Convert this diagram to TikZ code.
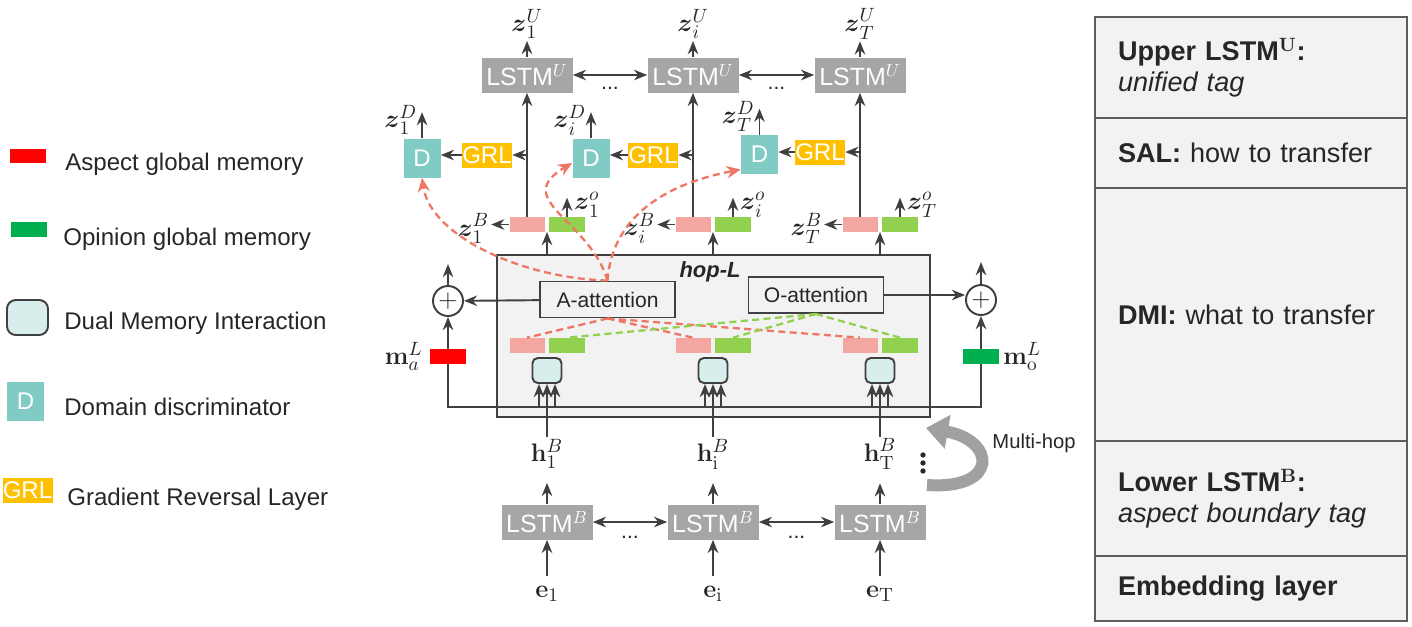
\documentclass[tikz,border=0pt]{standalone}
\usepackage[no-math]{fontspec}
\usepackage{amsmath}
\setmainfont{Liberation Sans}
\usetikzlibrary{positioning, arrows.meta}
\usetikzlibrary{calc}

% 颜色
\definecolor{lstmgray}{HTML}{A6A6A6}
\definecolor{discteal}{HTML}{80CBC4}
\definecolor{grlgold}{HTML}{FFC000}
\definecolor{apink}{HTML}{F4A7A0}
\definecolor{ogreen}{HTML}{92D050}
\definecolor{memred}{HTML}{FF0000}
\definecolor{memgreen}{HTML}{00B050}
\definecolor{dmicyan}{HTML}{D8EEEC}
\definecolor{boxgray}{HTML}{F2F2F2}
\definecolor{edgegray}{HTML}{404040}
\definecolor{txtgray}{HTML}{262626}
\definecolor{dashred}{HTML}{EF7564}
\definecolor{hopgray}{HTML}{A0A0A0}

% 尺寸与字体
\newcommand{\px}{0.02cm}
\newcommand{\legfont}{\fontsize{13.7}{16}\selectfont}
\newcommand{\panelfont}{\fontsize{15.4}{17.5}\selectfont}
\newcommand{\lstmfont}{\fontsize{14.2}{16}\selectfont}
\newcommand{\attfont}{\fontsize{12}{14}\selectfont}
\newcommand{\labfont}{\fontsize{15.5}{18}\selectfont}

\begin{document}
\begin{tikzpicture}[
        x=\px, y=-\px,
        lstm/.style={rectangle, fill=lstmgray, text=white, minimum width=91*\px, minimum height=35*\px, inner sep=0pt, font=\lstmfont},
        disc/.style={rectangle, fill=discteal, text=white, minimum width=37*\px, minimum height=39*\px, inner sep=0pt, font=\legfont},
        grl/.style={rectangle, fill=grlgold, text=white, minimum width=50*\px, minimum height=25*\px, inner sep=0pt, font=\legfont},
        amem/.style={rectangle, fill=apink, minimum width=35*\px, minimum height=15*\px, inner sep=0pt},
        omem/.style={rectangle, fill=ogreen, minimum width=36*\px, minimum height=15*\px, inner sep=0pt},
        gmem/.style={rectangle, minimum width=36*\px, minimum height=15*\px, inner sep=0pt},
        dmi/.style={rectangle, rounded corners=3pt, draw=edgegray, line width=1.1pt, fill=dmicyan, minimum width=29*\px, minimum height=25*\px, inner sep=0pt},
        attn/.style={rectangle, draw=edgegray, line width=1.1pt, fill=boxgray, minimum width=135*\px, minimum height=36*\px, inner sep=0pt, text=txtgray, font=\attfont},
        hopbox/.style={rectangle, draw=edgegray, line width=1.1pt, fill=boxgray, minimum width=433*\px, minimum height=162*\px, inner sep=0pt},
        plus/.style={circle, draw=edgegray, line width=1.1pt, fill=white, minimum size=30*\px, inner sep=0pt, text=txtgray, font=\labfont},
        lab/.style={text=txtgray, inner sep=1pt, font=\labfont},
        legtxt/.style={text=txtgray, inner sep=0pt, font=\legfont, anchor=base west},
        panel/.style={rectangle, draw=edgegray!85, line width=1.1pt, fill=boxgray, text width=5.32cm, inner xsep=0.46cm, inner ysep=0pt, outer sep=0pt, align=left, text=txtgray, font=\panelfont},
        dotsnode/.style={text=txtgray, inner sep=0pt, font=\attfont},
        arrow/.style={line width=1.1pt, draw=edgegray, -{Stealth[length=7.5pt, width=6pt]}},
        darrow/.style={line width=1.1pt, draw=edgegray, {Stealth[length=7.5pt, width=6pt]}-{Stealth[length=7.5pt, width=6pt]}},
        wire/.style={line width=1.1pt, draw=edgegray},
        reddash/.style={line width=1.3pt, draw=dashred, dash pattern=on 4pt off 2.5pt},
        greendash/.style={line width=1.3pt, draw=ogreen, dash pattern=on 4pt off 2.5pt},
        redarrow/.style={reddash, -{Stealth[length=8pt, width=7pt]}},
        multihop/.style={line width=0.24cm, draw=hopgray, -{Triangle[length=0.44cm, width=0.66cm]}}
    ]

        \useasboundingbox (0,0) rectangle (1412,626);

        % ===== 图例 =====
        \node (legA) [gmem, fill=memred, minimum height=14*\px] at (28,156) {};
        \node (legAtxt) [legtxt] at (65,170) {Aspect global memory};
        \node (legO) [gmem, fill=memgreen] at (29,229.5) {};
        \node (legOtxt) [legtxt] at (63,245) {Opinion global memory};
        \node (legM) [dmi, minimum width=41*\px, minimum height=35*\px, rounded corners=5pt] at (27.5,317.5) {};
        \node (legMtxt) [legtxt] at (64,329) {Dual Memory Interaction};
        \node (legD) [disc] at (25.5,401.5) {D};
        \node (legDtxt) [legtxt] at (64,415) {Domain discriminator};
        \node (legG) [grl] at (27.5,490.5) {GRL};
        \node (legGtxt) [legtxt] at (67,505) {Gradient Reversal Layer};

        % ===== hop-L 模块 =====
        \node (hop) [hopbox] at (713.5,336) {};
        \node (hopL) [text=txtgray, font=\fontsize{12.5}{15}\selectfont\bfseries\itshape] at (710,272) {hop-L};
        \node (aatt) [attn] at (607.5,299.5) {A-attention};
        \node (oatt) [attn] at (816,295) {O-attention};
        \node (plusL) [plus] at (448,301) {$+$};
        \node (plusR) [plus] at (981,300) {$+$};
        \node (ma) [gmem, fill=memred] at (448,356.5) {};
        \node (maL) [lab, left=0.1cm of ma] {$\mathbf{m}_{a}^{L}$};
        \node (mo) [gmem, fill=memgreen] at (981,356.5) {};
        \node (moL) [lab, right=0.04cm of mo] {$\mathbf{m}_{\mathrm{o}}^{L}$};

        \node (inA1) [amem] at (527,345.5) {};
        \node (inO1) [omem] at (567,345.5) {};
        \node (inA2) [amem] at (693,345.5) {};
        \node (inO2) [omem] at (733,345.5) {};
        \node (inA3) [amem] at (860,345.5) {};
        \node (inO3) [omem] at (900,345.5) {};
        \node (dmi1) [dmi] at (547,370.5) {};
        \node (dmi2) [dmi] at (713,370.5) {};
        \node (dmi3) [dmi] at (880,370.5) {};

        % ===== 下层 LSTM =====
        \node (h1) [lab] at (547,454) {$\mathbf{h}_{1}^{B}$};
        \node (h2) [lab] at (713,454) {$\mathbf{h}_{\mathrm{i}}^{B}$};
        \node (h3) [lab] at (880,454) {$\mathbf{h}_{\mathrm{T}}^{B}$};
        \node (lstmB1) [lstm] at (547,522) {LSTM$^{B}$};
        \node (lstmB2) [lstm] at (713,522) {LSTM$^{B}$};
        \node (lstmB3) [lstm] at (880,522) {LSTM$^{B}$};
        \node (e1) [lab] at (547,594) {$\mathbf{e}_{1}$};
        \node (e2) [lab] at (713,594) {$\mathbf{e}_{\mathrm{i}}$};
        \node (e3) [lab] at (880,594) {$\mathbf{e}_{\mathrm{T}}$};
        \node (dotsB1) [dotsnode] at ($(lstmB1)!0.5!(lstmB2)+(0,15)$) {...};
        \node (dotsB2) [dotsnode] at ($(lstmB2)!0.5!(lstmB3)+(0,15)$) {...};

        % ===== 上层：SAL 与 LSTM^U =====
        \node (outA1) [amem] at (527,224.5) {};
        \node (outO1) [omem] at (567,224.5) {};
        \node (outA2) [amem] at (693,224.5) {};
        \node (outO2) [omem] at (733,224.5) {};
        \node (outA3) [amem] at (860,224.5) {};
        \node (outO3) [omem] at (900,224.5) {};
        \node (grl1) [grl] at (487,155) {GRL};
        \node (grl2) [grl] at (653,155) {GRL};
        \node (grl3) [grl] at (820,152) {GRL};
        \node (d1) [disc] at (422,158) {D};
        \node (d2) [disc] at (591,158) {D};
        \node (d3) [disc] at (759.5,154.5) {D};
        \node (lstmU1) [lstm] at (527,75) {LSTM$^{U}$};
        \node (lstmU2) [lstm] at (693,75) {LSTM$^{U}$};
        \node (lstmU3) [lstm] at (860,75) {LSTM$^{U}$};
        \node (zU1) [lab] at (527,24) {$\boldsymbol{z}_{1}^{U}$};
        \node (zU2) [lab] at (693,24) {$\boldsymbol{z}_{i}^{U}$};
        \node (zU3) [lab] at (860,24) {$\boldsymbol{z}_{T}^{U}$};
        \node (dotsU1) [dotsnode] at ($(lstmU1)!0.5!(lstmU2)+(0,13)$) {...};
        \node (dotsU2) [dotsnode] at ($(lstmU2)!0.5!(lstmU3)+(0,13)$) {...};

        % 输出标签
        \coordinate (zDt1) at ($(d1.north)+(0,-26)$);
        \coordinate (zDt2) at ($(d2.north)+(0,-26)$);
        \coordinate (zDt3) at ($(d3.north)+(0,-26)$);
        \node (zD1) [lab, anchor=east] at ($(d1.north)+(-3,-18)$) {$\boldsymbol{z}_{1}^{D}$};
        \node (zD2) [lab, anchor=east] at ($(d2.north)+(-3,-18)$) {$\boldsymbol{z}_{i}^{D}$};
        \node (zD3) [lab, anchor=east] at ($(d3.north)+(-3,-18)$) {$\boldsymbol{z}_{T}^{D}$};
        \coordinate (zBt1) at ($(outA1.west)+(-18,0)$);
        \coordinate (zBt2) at ($(outA2.west)+(-18,0)$);
        \coordinate (zBt3) at ($(outA3.west)+(-18,0)$);
        \node (zB1) [lab, anchor=east] at ($(zBt1)+(0,4)$) {$\boldsymbol{z}_{1}^{B}$};
        \node (zB2) [lab, anchor=east] at ($(zBt2)+(0,4)$) {$\boldsymbol{z}_{i}^{B}$};
        \node (zB3) [lab, anchor=east] at ($(zBt3)+(0,4)$) {$\boldsymbol{z}_{T}^{B}$};
        \coordinate (zOt1) at ($(outO1.north)+(0,-19)$);
        \coordinate (zOt2) at ($(outO2.north)+(0,-19)$);
        \coordinate (zOt3) at ($(outO3.north)+(0,-19)$);
        \node (zO1) [lab, anchor=west] at ($(outO1.north)+(5,-12)$) {$\boldsymbol{z}_{1}^{o}$};
        \node (zO2) [lab, anchor=west] at ($(outO2.north)+(5,-12)$) {$\boldsymbol{z}_{i}^{o}$};
        \node (zO3) [lab, anchor=west] at ($(outO3.north)+(5,-12)$) {$\boldsymbol{z}_{T}^{o}$};

        % ===== 右侧层次说明 =====
        \node (secU) [panel, minimum height=101*\px, anchor=north west] at (1095,17) {\textbf{Upper LSTM$^{\mathbf{U}}$:}\\\textit{unified tag}};
        \node (secS) [panel, minimum height=70*\px, below=0pt of secU] {\textbf{SAL:} how to transfer};
        \node (secD) [panel, minimum height=253*\px, below=0pt of secS] {\textbf{DMI:} what to transfer};
        \node (secL) [panel, minimum height=115*\px, below=0pt of secD] {\textbf{Lower LSTM$^{\mathbf{B}}$:}\\\textit{aspect boundary tag}};
        \node (secE) [panel, minimum height=65*\px, below=0pt of secL] {\textbf{Embedding layer}};

        % ===== 箭头路径 =====
        % 下层
        \draw [arrow, shorten <=0.16cm] (e1) -- (lstmB1);
        \draw [arrow, shorten <=0.16cm] (e2) -- (lstmB2);
        \draw [arrow, shorten <=0.16cm] (e3) -- (lstmB3);
        \draw [arrow, shorten >=0.24cm] (lstmB1) -- (h1);
        \draw [arrow, shorten >=0.24cm] (lstmB2) -- (h2);
        \draw [arrow, shorten >=0.24cm] (lstmB3) -- (h3);
        \draw [darrow] (lstmB1) -- (lstmB2);
        \draw [darrow] (lstmB2) -- (lstmB3);

        % 记忆回路
        \coordinate (fbL) at (448,407);
        \coordinate (fbR) at (981,407);
        \draw [wire] (ma.south) -- (fbL) -- (fbR) -- (mo.south);
        \draw [arrow] (ma) -- (plusL);
        \draw [arrow] (mo) -- (plusR);
        \draw [arrow] (aatt) -- (plusL);
        \draw [arrow] (oatt.east) -- (oatt.east -| plusR.west);
        \coordinate (outL) at (448,264);
        \coordinate (outR) at (981,262);
        \draw [arrow] (plusL) -- (outL);
        \draw [arrow] (plusR) -- (outR);

        % DMI 输入
        \draw [arrow] (h1) -- (dmi1);
        \draw [arrow] (h2) -- (dmi2);
        \draw [arrow] (h3) -- (dmi3);
        \draw [arrow] ([xshift=-0.16cm]dmi1.south |- fbL) -- ([xshift=-0.16cm]dmi1.south);
        \draw [arrow] ([xshift=0.16cm]dmi1.south |- fbL) -- ([xshift=0.16cm]dmi1.south);
        \draw [arrow] ([xshift=-0.16cm]dmi2.south |- fbL) -- ([xshift=-0.16cm]dmi2.south);
        \draw [arrow] ([xshift=0.16cm]dmi2.south |- fbL) -- ([xshift=0.16cm]dmi2.south);
        \draw [arrow] ([xshift=-0.16cm]dmi3.south |- fbL) -- ([xshift=-0.16cm]dmi3.south);
        \draw [arrow] ([xshift=0.16cm]dmi3.south |- fbL) -- ([xshift=0.16cm]dmi3.south);

        % 注意力
        \draw [reddash] (aatt.south) -- (inA1.north);
        \draw [reddash] (aatt.south) -- (inA2.north);
        \draw [reddash] (aatt.south) -- (inA3.north);
        \draw [greendash] (oatt.south) -- (inO1.north);
        \draw [greendash] (oatt.south) -- (inO2.north);
        \draw [greendash] (oatt.south) -- (inO3.north);

        % 上层
        \coordinate (gap1) at (547,232);
        \coordinate (gap2) at (713,232);
        \coordinate (gap3) at (880,232);
        \draw [arrow] (gap1 |- hop.north) -- (gap1);
        \draw [arrow] (gap2 |- hop.north) -- (gap2);
        \draw [arrow] (gap3 |- hop.north) -- (gap3);
        \draw [arrow] (outA1) -- (lstmU1);
        \draw [arrow] (outA2) -- (lstmU2);
        \draw [arrow] (outA3) -- (lstmU3);
        \draw [arrow] (grl1 -| outA1) -- (grl1);
        \draw [arrow] (grl2 -| outA2) -- (grl2);
        \draw [arrow] (grl3 -| outA3) -- (grl3);
        \draw [arrow] (grl1) -- (grl1 -| d1.east);
        \draw [arrow] (grl2) -- (grl2 -| d2.east);
        \draw [arrow] (grl3) -- (grl3 -| d3.east);
        \draw [arrow] (d1.north) -- (zDt1);
        \draw [arrow] (d2.north) -- (zDt2);
        \draw [arrow] (d3.north) -- (zDt3);
        \draw [arrow] (outA1.west) -- (zBt1);
        \draw [arrow] (outA2.west) -- (zBt2);
        \draw [arrow] (outA3.west) -- (zBt3);
        \draw [arrow] (outO1.north) -- (zOt1);
        \draw [arrow] (outO2.north) -- (zOt2);
        \draw [arrow] (outO3.north) -- (zOt3);
        \draw [arrow] (lstmU1) -- (zU1);
        \draw [arrow] (lstmU2) -- (zU2);
        \draw [arrow] (lstmU3) -- (zU3);
        \draw [darrow] (lstmU1) -- (lstmU2);
        \draw [darrow] (lstmU2) -- (lstmU3);

        % 领域判别
        \draw [redarrow] (aatt.north) .. controls (520,278) and (430,235) .. (d1.south);
        \draw [redarrow] (aatt.north) .. controls (590,220) and (510,200) .. ([yshift=-0.1cm]d2.west);
        \draw [redarrow] (aatt.north) .. controls (612,220) and (660,185) .. ([yshift=-0.3cm]d3.west);

        % ===== Multi-hop =====
        \coordinate (mhS) at (927,485);
        \coordinate (mhE) at (926,428);
        \draw [multihop] (mhS) .. controls (1000,490) and (995,440) .. (mhE);
        \coordinate (vd) at (923,463);
        \fill [txtgray] ($(vd)+(0,-8)$) circle (1.5pt) (vd) circle (1.5pt) ($(vd)+(0,8)$) circle (1.5pt);
        \node (mhtxt) [text=txtgray, font=\fontsize{11.5}{14}\selectfont] at (1034,443) {Multi-hop};

    \end{tikzpicture}
\end{document}
